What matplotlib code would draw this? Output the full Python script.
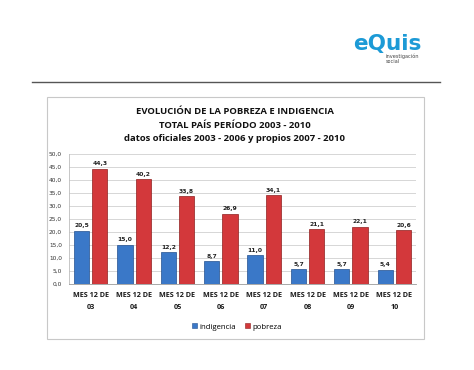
import numpy as np
import matplotlib.pyplot as plt
from matplotlib.patches import Rectangle, Patch
from matplotlib.lines import Line2D

categorias = ['MES 12 DE\n03', 'MES 12 DE\n04', 'MES 12 DE\n05', 'MES 12 DE\n06',
              'MES 12 DE\n07', 'MES 12 DE\n08', 'MES 12 DE\n09', 'MES 12 DE\n10']
indigencia = [20.5, 15.0, 12.2, 8.7, 11.0, 5.7, 5.7, 5.4]
pobreza = [44.3, 40.2, 33.8, 26.9, 34.1, 21.1, 22.1, 20.6]
yticks = np.arange(0, 55, 5)

W, H = 474, 370
fig = plt.figure(figsize=(W / 100, H / 100), dpi=100)
fig.patch.set_facecolor('white')

def px(x0, y0, x1, y1):
    # pixel box (top-left origin) -> figure fraction rect
    return [x0 / W, 1 - y1 / H, (x1 - x0) / W, (y1 - y0) / H]

# header line + logo
fig.add_artist(Line2D([32 / W, 440 / W], [1 - 82 / H, 1 - 82 / H], color='#555555', lw=1.0))
fig.text(353 / W, 1 - 50 / H, 'eQuis', color='#1c9ad6', fontsize=15.5, fontweight='bold',
         family='DejaVu Sans', va='baseline')
fig.text(386 / W, 1 - 59 / H, 'investigación\nsocial', color='#444444', fontsize=3.6,
         va='center', linespacing=0.9)

# chart box
box = Rectangle((47 / W, 1 - 339 / H), 377 / W, 242 / H, transform=fig.transFigure,
                facecolor='white', edgecolor='#c8c8c8', lw=0.8, zorder=-1)
fig.add_artist(box)

tkw = dict(ha='center', va='center', fontsize=6.8, fontweight='bold', family='Open Sans', color='#111111')
fig.text(235 / W, 1 - 111 / H, 'EVOLUCIÓN DE LA POBREZA E INDIGENCIA', **tkw)
fig.text(235 / W, 1 - 125 / H, 'TOTAL PAÍS PERÍODO 2003 - 2010', **tkw)
fig.text(235 / W, 1 - 138.5 / H, 'datos oficiales 2003 - 2006 y propios 2007 - 2010', **tkw)

ax = fig.add_axes(px(69, 154, 416, 284))
ax.set_zorder(2)
ax.patch.set_alpha(0)
x = np.arange(len(categorias))
w = 0.35
b1 = ax.bar(x - w / 2 - 0.035, indigencia, w, color='#3a78c8', edgecolor='#23508f', lw=0.5, zorder=3)
b2 = ax.bar(x + w / 2 + 0.035, pobreza, w, color='#d3383b', edgecolor='#8e1f1f', lw=0.5, zorder=3)

for bars, vals in ((b1, indigencia), (b2, pobreza)):
    for r, v in zip(bars, vals):
        ax.text(r.get_x() + r.get_width() / 2, v + 1.0, f'{v:.1f}'.replace('.', ','),
                ha='center', va='bottom', fontsize=4.3, fontweight='bold', color='#222222')

ax.set_xlim(-0.5, len(categorias) - 0.5)
ax.set_ylim(0, 50)
ax.set_yticks(yticks)
ax.set_yticklabels([f'{v:.1f}'.replace('.', ',') for v in yticks], fontsize=4.2, color='#333333')
ax.set_xticks(x)
ax.set_xticklabels(categorias, fontsize=5.2, fontweight='bold', family='Open Sans', color='#1a1a1a',
                   linespacing=1.9)
ax.tick_params(axis='both', length=0, pad=5)
ax.tick_params(axis='x', pad=6)
ax.grid(axis='y', color='#d0d0d0', lw=0.6, zorder=0)
for s in ('top', 'right'):
    ax.spines[s].set_visible(False)
ax.spines['left'].set_color('#bdbdbd')
ax.spines['bottom'].set_color('#9a9a9a')
ax.spines['left'].set_linewidth(0.6)
ax.spines['bottom'].set_linewidth(0.6)

handles = [Patch(facecolor='#3a78c8', edgecolor='#23508f', lw=0.4),
           Patch(facecolor='#d3383b', edgecolor='#8e1f1f', lw=0.4)]
fig.legend(handles, ['indigencia', 'pobreza'], loc='center', bbox_to_anchor=(237 / W, 1 - 327 / H),
           ncol=2, frameon=False, handlelength=0.6, handleheight=0.6,
           handletextpad=0.3, columnspacing=1.2, prop={'family': 'Open Sans', 'size': 5.6})

fig.savefig('out.png', dpi=100)
